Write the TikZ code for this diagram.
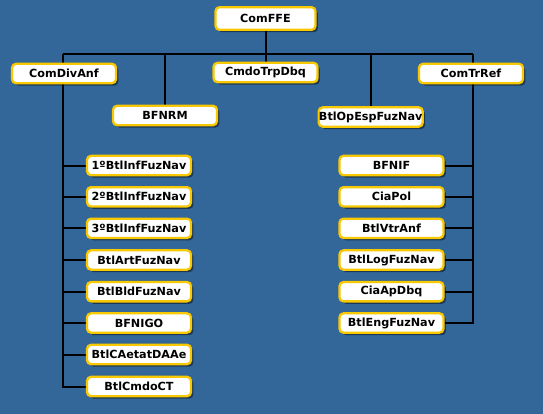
\documentclass[tikz,border=0pt]{standalone}
\usepackage{fontspec}
\setmainfont{DejaVu Sans}
\usetikzlibrary{shadows}
\definecolor{bgblue}{HTML}{336699}
\definecolor{boxgold}{HTML}{F8C800}
\pgfdeclarelayer{bglayer}
\pgfdeclarelayer{linelayer}
\pgfsetlayers{bglayer,linelayer,main}
\tikzset{
  unit box/.style={draw=boxgold, line width=1.7pt, fill=white, rounded corners=3pt,
    minimum width=78pt, minimum height=14.5pt, inner sep=0pt,
    font=\bfseries\fontsize{8.4}{9}\selectfont, text=black,
    drop shadow={shadow xshift=1.8pt, shadow yshift=-1.8pt, fill=black, opacity=0.45}},
  top box/.style={unit box, minimum width=75pt, minimum height=17pt},
  conn/.style={draw=black, line width=1.5pt}
}
\begin{document}
\begin{tikzpicture}[x=0.75pt, y=-0.75pt]
\begin{pgfonlayer}{bglayer}
\fill[bgblue] (0,0) rectangle (543,414);
\end{pgfonlayer}
\useasboundingbox (0,0) rectangle (543,414);

\node[top box] (ComFFE) at (265.5,18.5) {ComFFE};
\node[unit box] (ComDivAnf) at (64,73.5) {ComDivAnf};
\node[unit box] (CmdoTrpDbq) at (265.5,72.5) {CmdoTrpDbq};
\node[unit box] (ComTrRef) at (471,73.5) {ComTrRef};
\node[unit box] (BFNRM) at (165,115.5) {BFNRM};
\node[unit box] (BtlOpEspFuzNav) at (370.7,117) {BtlOpEspFuzNav};

\node[unit box] (L1) at (139,165.5) {1ºBtlInfFuzNav};
\node[unit box] (L2) at (139,196.8) {2ºBtlInfFuzNav};
\node[unit box] (L3) at (139,228.3) {3ºBtlInfFuzNav};
\node[unit box] (L4) at (139,260) {BtlArtFuzNav};
\node[unit box] (L5) at (139,291.7) {BtlBldFuzNav};
\node[unit box] (L6) at (139,323) {BFNIGO};
\node[unit box] (L7) at (139,354.5) {BtlCAetatDAAe};
\node[unit box] (L8) at (139,386.5) {BtlCmdoCT};

\node[unit box] (R1) at (391.5,165.5) {BFNIF};
\node[unit box] (R2) at (391.5,196.8) {CiaPol};
\node[unit box] (R3) at (391.5,228.3) {BtlVtrAnf};
\node[unit box] (R4) at (391.5,260) {BtlLogFuzNav};
\node[unit box] (R5) at (391.5,291.7) {CiaApDbq};
\node[unit box] (R6) at (391.5,323) {BtlEngFuzNav};

\coordinate (busL) at (62.5,53.5);
\coordinate (busR) at (473,53.5);

\begin{pgfonlayer}{linelayer}
\draw[conn] (busL) -- (busR);
\draw[conn] (ComFFE.south) -- (ComFFE.south |- busL);
\draw[conn] (CmdoTrpDbq.north) -- (CmdoTrpDbq.north |- busL);
\draw[conn] (BFNRM.north) -- (BFNRM.north |- busL);
\draw[conn] (BtlOpEspFuzNav.north) -- (BtlOpEspFuzNav.north |- busL);
\foreach \n in {L1,L2,L3,L4,L5,L6,L7,L8}
  \draw[conn] (\n.west) -| (busL);
\foreach \n in {R1,R2,R3,R4,R5,R6}
  \draw[conn] (\n.east) -| (busR);
\end{pgfonlayer}
\end{tikzpicture}
\end{document}
